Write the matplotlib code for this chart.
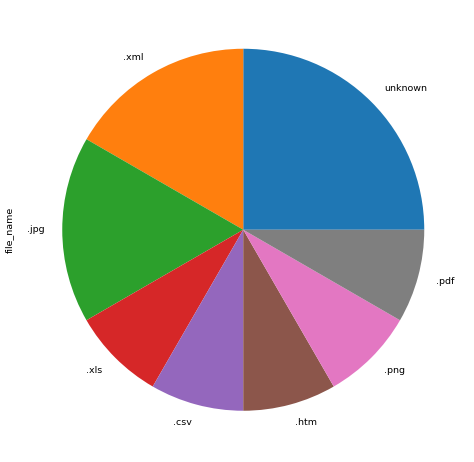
import matplotlib
matplotlib.use("Agg")
from matplotlib import pyplot as plt

labels = ["unknown", ".xml", ".jpg", ".xls", ".csv", ".htm", ".png", ".pdf"]
counts = [3, 2, 2, 1, 1, 1, 1, 1]

plt.rcParams["font.size"] = 6.8
colors = plt.rcParams["axes.prop_cycle"].by_key()["color"]

fig = plt.figure(figsize=(4.74, 4.62), dpi=100)
ax = fig.add_axes([17 / 474, 6 / 462, 452.5 / 474, 452.5 / 462])
ax.pie(counts, labels=labels, colors=colors[:len(counts)])
ax.set_ylabel("file_name", labelpad=2)

fig.savefig("out.png", dpi=100)
